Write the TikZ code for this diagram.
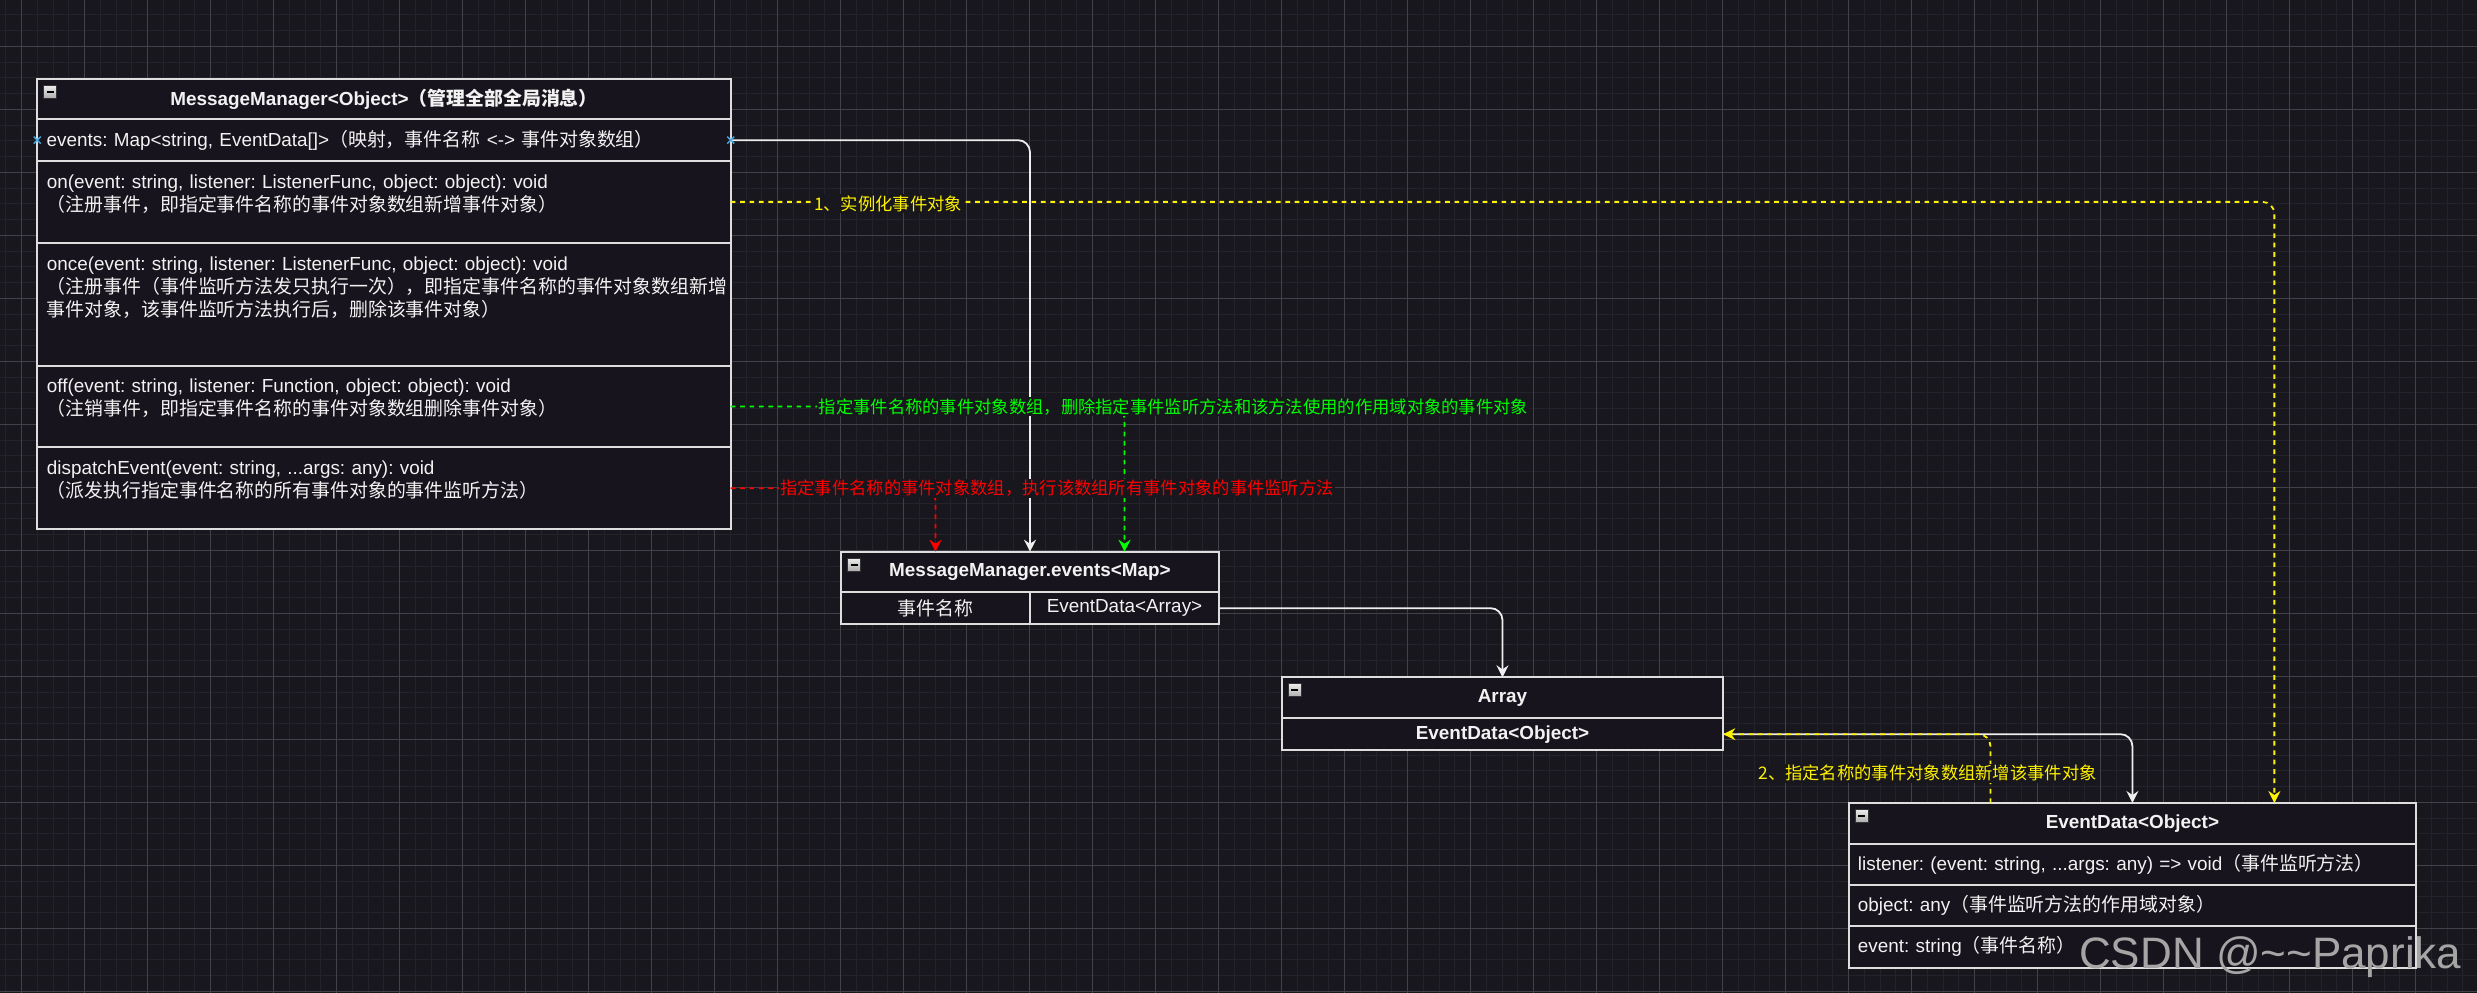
\documentclass[tikz,border=0pt]{standalone}
\usepackage{fontspec}
\setmainfont{Liberation Sans}
\newfontfamily\zh{Noto Sans CJK SC}
\usetikzlibrary{arrows.meta}
\frenchspacing

\definecolor{canvas}{RGB}{24,23,30}
\definecolor{gridminor}{RGB}{36,35,43}
\definecolor{gridmajor}{RGB}{66,65,73}
\definecolor{boxfill}{RGB}{24,20,29}
\definecolor{boxline}{RGB}{222,222,222}
\definecolor{boxtext}{RGB}{242,242,242}
\definecolor{linkwhite}{RGB}{238,238,238}
\definecolor{pinblue}{RGB}{66,170,225}
\definecolor{wmgray}{RGB}{165,165,165}

\newcommand\boxfont{\fontsize{18.9}{23}\selectfont}
\newcommand\lblfont{\zh\fontsize{17.3}{20}\selectfont}

\tikzset{
  minorgrid/.style={gridminor, line width=1pt},
  majorgrid/.style={gridmajor, line width=1pt},
  box/.style={draw=boxline, fill=boxfill, line width=2pt, inner sep=0pt, outer sep=0pt, text=boxtext, font=\boxfont},
  hdr/.style={box, font=\boxfont\bfseries},
  row/.style={box, inner xsep=9.4pt, align=left},
  rowtext/.style={anchor=base west, inner sep=0pt, text width=690pt, align=left, text=boxtext, font=\boxfont},
  link/.style={draw=linkwhite, line width=1.8pt, rounded corners=12pt, -{Stealth[length=12pt,width=12pt,inset=4pt]}},
  dlink/.style={link, dash pattern=on 4.7pt off 4.7pt},
  lbl/.style={fill=canvas, inner sep=1.5pt, font=\lblfont},
  pinmark/.style={pinblue, line width=1.4pt}
}

\begin{document}
\begin{tikzpicture}[x=1pt,y=-1pt]
\useasboundingbox (0,0) rectangle (2477,993);
\fill[canvas] (0,0) rectangle (2477,993);
\foreach \i in {0,...,156} \draw[minorgrid] ({5.95+15.75*\i},0) -- ++(0,993);
\foreach \j in {0,...,63} \draw[minorgrid] (0,{-0.95+15.75*\j}) -- ++(2477,0);
\foreach \i in {0,...,38} \draw[majorgrid] ({21.7+63*\i},0) -- ++(0,993);
\foreach \j in {0,...,15} \draw[majorgrid] (0,{46.3+63*\j}) -- ++(2477,0);

\node[hdr, minimum width=693.4, minimum height=40.3] (mmHead) at (384,99.15) {MessageManager<Object>{\zh （管理全部全局消息）}};
\node[row, minimum width=693.4, minimum height=41.7, text width=674.6pt] (mmEvents) at (384,140.15) {events: Map<string, EventData[]>{\zh （映射，事件名称} <-> {\zh 事件对象数组）}};
\node[box, minimum width=693.4, minimum height=81.7] (mmOn) at (384,201.85) {};
\node[box, minimum width=693.4, minimum height=123] (mmOnce) at (384,304.2) {};
\node[box, minimum width=693.4, minimum height=81.6] (mmOff) at (384,406.5) {};
\node[box, minimum width=693.4, minimum height=82] (mmDispatch) at (384,488.3) {};
\node[rowtext] (mmOnText) at ([xshift=9.4pt,yshift=-27.5pt]mmOn.north west) {on(event: string, listener: ListenerFunc, object: object): void\\{\zh （注册事件，即指定事件名称的事件对象数组新增事件对象）}};
\node[rowtext] (mmOnceText) at ([xshift=9.4pt,yshift=-27.5pt]mmOnce.north west) {once(event: string, listener: ListenerFunc, object: object): void\\{\zh （注册事件（事件监听方法发只执行一次），即指定事件名称的事件对象数组新增}\\{\zh 事件对象，该事件监听方法执行后，删除该事件对象）}};
\node[rowtext] (mmOffText) at ([xshift=9.4pt,yshift=-27pt]mmOff.north west) {off(event: string, listener: Function, object: object): void\\{\zh （注销事件，即指定事件名称的事件对象数组删除事件对象）}};
\node[rowtext] (mmDispatchText) at ([xshift=9.4pt,yshift=-27pt]mmDispatch.north west) {dispatchEvent(event: string, ...args: any): void\\{\zh （派发执行指定事件名称的所有事件对象的事件监听方法）}};

\node[hdr, minimum width=378, minimum height=40.6] (mapHead) at (1030,572) {MessageManager.events<Map>};
\node[box, minimum width=189, minimum height=31.7] (mapKey) at (935.5,608.15) {{\zh 事件名称}};
\node[box, minimum width=189, minimum height=31.7] (mapVal) at (1124.5,608.15) {EventData<Array>};

\node[hdr, minimum width=441.6, minimum height=41] (arrHead) at (1502.5,697.8) {Array};
\node[hdr, minimum width=441.6, minimum height=31.7] (arrRow) at (1502.5,734.15) {EventData<Object>};

\node[hdr, minimum width=567.8, minimum height=41.3] (edHead) at (2132.4,823.65) {EventData<Object>};
\node[row, minimum width=567.8, minimum height=41, text width=549pt] (edListener) at (2132.4,864.8) {listener: (event: string, ...args: any) => void{\zh （事件监听方法）}};
\node[row, minimum width=567.8, minimum height=40.7, text width=549pt] (edObject) at (2132.4,905.65) {object: any{\zh （事件监听方法的作用域对象）}};
\node[row, minimum width=567.8, minimum height=41.7, text width=549pt] (edEvent) at (2132.4,946.85) {event: string{\zh （事件名称）}};

\foreach \h in {mmHead,mapHead,arrHead,edHead}{
  \shadedraw[top color=gray!15, bottom color=gray!65, draw=gray!40!black, line width=0.8pt] ([xshift=6.5pt,yshift=-6.5pt]\h.north west) rectangle ++(13,13);
  \draw[black, line width=2pt] ([xshift=9.5pt,yshift=-13pt]\h.north west) -- ++(7,0);
}

\coordinate (edTopA) at ([xshift=-141.95pt]edHead.north);
\coordinate (edTopB) at ([xshift=141.95pt]edHead.north);

\draw[link] (mmEvents.east) -| (mapHead.north);
\draw[link] (mapVal.east) -| (arrHead.north);
\draw[link] (arrRow.east) -| (edHead.north);
\draw[dlink, draw=yellow] (edTopA) |- (arrRow.east);
\draw[dlink, draw=yellow] (mmOn.east) -| (edTopB);
\draw[dlink, draw=green] (mmOff.east) -| (mapVal |- mapHead.north);
\draw[dlink, draw=red] (mmDispatch.east) -| (mapKey |- mapHead.north);

\foreach \p in {mmEvents.west,mmEvents.east}
  \draw[pinmark] (\p) ++(-3.5,-3.5) -- ++(7,7) (\p) ++(-3.5,3.5) -- ++(7,-7);

\node[lbl, text=yellow] (lblNew) at (888,203.5) {1、实例化事件对象};
\node[lbl, text=green] (lblOff) at (1173.5,406.7) {指定事件名称的事件对象数组，删除指定事件监听方法和该方法使用的作用域对象的事件对象};
\node[lbl, text=red] (lblDispatch) at (1057,488.3) {指定事件名称的事件对象数组，执行该数组所有事件对象的事件监听方法};
\node[lbl, text=yellow] (lblPush) at (1927.6,773.3) {2、指定名称的事件对象数组新增该事件对象};

\node[anchor=base west, inner sep=0pt, text=wmgray, font=\fontsize{44}{50}\selectfont] (csdn) at (2079,968) {CSDN @\textasciitilde\textasciitilde Paprika};
\end{tikzpicture}
\end{document}
